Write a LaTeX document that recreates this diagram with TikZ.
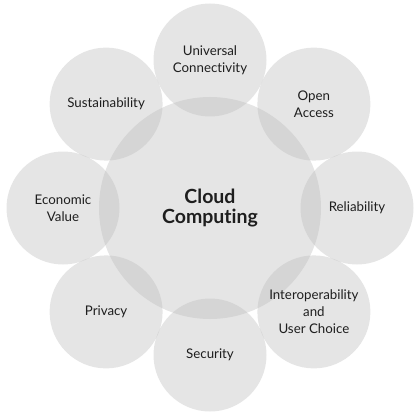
\documentclass[tikz,border=0pt]{standalone}
\usepackage{fontspec}
\setmainfont{Lato}[Ligatures={NoCommon}]
\definecolor{txt}{HTML}{1E1E1E}
\tikzset{
  blob/.style={circle, fill=black!27, fill opacity=0.38, text opacity=1, text=txt, align=center, inner sep=0pt},
  outer/.style={blob, minimum size=113pt, font=\fontsize{13.3}{17}\selectfont},
  hub/.style={blob, minimum size=222pt, font=\fontsize{19.5}{20}\selectfont\bfseries},
}
\begin{document}
\begin{tikzpicture}[x=1pt,y=-1pt]
\useasboundingbox (0,0) rectangle (420,417);
\node[hub] (c) at (210,208) {Cloud\\Computing};
\node[outer] (n1) at (210,60) {Universal\\Connectivity};
\node[outer] (n2) at (313.9,104.1) {Open\\Access};
\node[outer] (n3) at (357,208) {Reliability};
\node[outer] (n4) at (313.9,311.9) {Interoperability\\and\\User Choice};
\node[outer] (n5) at (210,355) {Security};
\node[outer] (n6) at (106.1,311.9) {Privacy};
\node[outer] (n7) at (63,208) {Economic\\Value};
\node[outer] (n8) at (106.1,104.1) {Sustainability};
\end{tikzpicture}
\end{document}
